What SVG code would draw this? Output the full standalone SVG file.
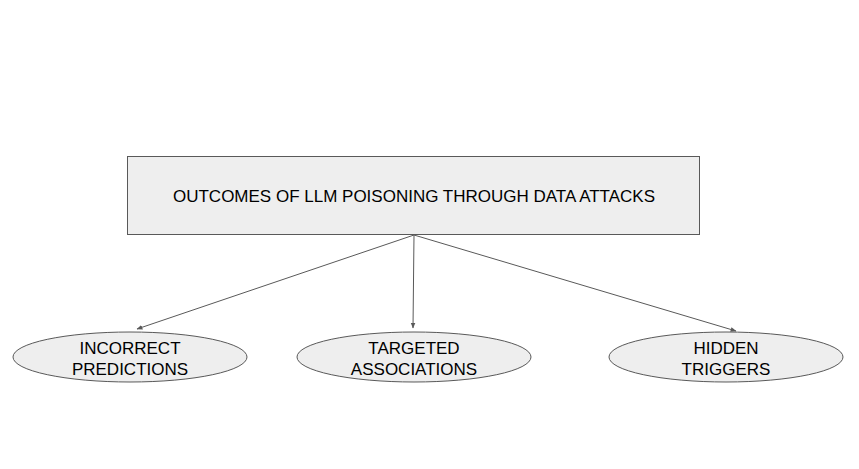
<svg xmlns="http://www.w3.org/2000/svg" width="859" height="469" viewBox="0 0 859 469">
<style>
.n{fill:#eeeeee;stroke:#595959;stroke-width:1}
.t{font-family:"Liberation Sans",Arial,sans-serif;font-size:17px;fill:#000;text-anchor:middle}
.c{stroke:#595959;stroke-width:1;fill:none;marker-end:url(#a)}
</style>
<defs><marker id="a" viewBox="0 0 10 10" refX="9" refY="5" markerWidth="6" markerHeight="6" orient="auto" markerUnits="userSpaceOnUse"><path d="M0,1L10,5L0,9z" fill="#595959"/></marker></defs>
<rect width="859" height="469" fill="#fff"/>
<g id="root"><rect class="n" x="127.500" y="156.500" width="572" height="78"/><text class="t" x="414" y="202">OUTCOMES OF LLM POISONING THROUGH DATA ATTACKS</text></g>
<g id="n1"><ellipse class="n" cx="130" cy="357" rx="117" ry="25"/><text class="t" x="130" y="354">INCORRECT</text><text class="t" x="130" y="375">PREDICTIONS</text></g>
<g id="n2"><ellipse class="n" cx="414" cy="357" rx="117" ry="25"/><text class="t" x="414" y="354">TARGETED</text><text class="t" x="414" y="375">ASSOCIATIONS</text></g>
<g id="n3"><ellipse class="n" cx="726" cy="357" rx="117" ry="25"/><text class="t" x="726" y="354">HIDDEN</text><text class="t" x="726" y="375">TRIGGERS</text></g>
<g id="connectors">
<line class="c" x1="414" y1="235" x2="137" y2="329"/>
<line class="c" x1="414" y1="235" x2="413" y2="328"/>
<line class="c" x1="414" y1="235" x2="736" y2="331"/>
</g>
</svg>
